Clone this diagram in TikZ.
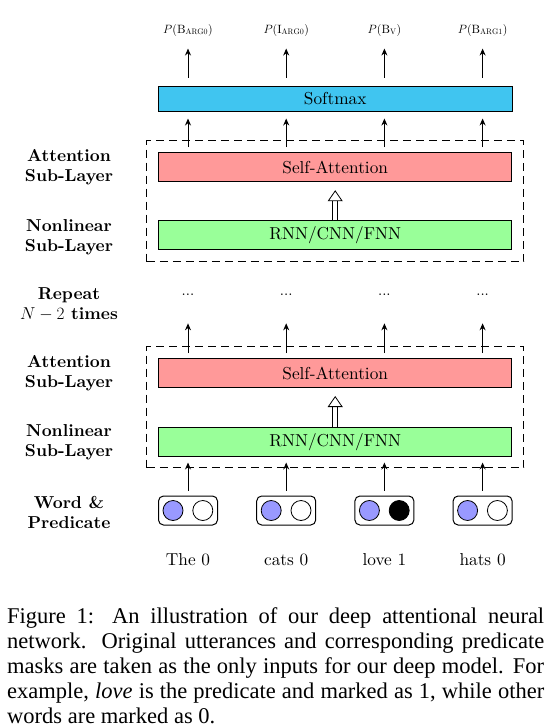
\documentclass[tikz,border=0pt]{standalone}
\usepackage{fontspec}
\setmainfont{lmroman10-regular.otf}[BoldFont=lmroman10-bold.otf,ItalicFont=lmroman10-italic.otf]
\newfontfamily\capfont{Liberation Serif}
\usetikzlibrary{arrows.meta}
\definecolor{softblue}{RGB}{64,197,240}
\definecolor{attred}{RGB}{255,153,153}
\definecolor{nlgreen}{RGB}{153,255,153}
\definecolor{wordblue}{RGB}{153,153,255}

\begin{document}
\begin{tikzpicture}[x=1pt,y=-1pt,
   font=\fontsize{17.28}{20}\selectfont,
   layer/.style={draw,line width=1pt,minimum width=353pt,minimum height=29pt,inner sep=0pt},
   block/.style={draw,dash pattern=on 8pt off 5pt,line width=1pt,minimum width=377pt,minimum height=121pt},
   wordbox/.style={draw,rounded corners=5pt,line width=1pt,minimum width=59pt,minimum height=29pt},
   unit/.style={circle,draw,line width=0.8pt,minimum size=20pt,inner sep=0pt},
   small/.style={font=\fontsize{12}{14}\selectfont},
   side/.style={align=center,font=\fontsize{17.28}{20}\selectfont\bfseries},
   arr/.style={-{Stealth[length=7pt,width=6pt]},line width=1pt},
   hollow/.style={double,double distance=4pt,line width=0.8pt,-{Triangle[open,length=11pt,width=15pt,line width=0.8pt]}}]

   \useasboundingbox (0,0) rectangle (549,728);

   % outputs
   \node (p1) at (188,30) [small] {$P(\mathrm{B}_{\mathrm{ARG0}})$};
   \node (p2) at (286.2,30) [small] {$P(\mathrm{I}_{\mathrm{ARG0}})$};
   \node (p3) at (384.4,30) [small] {$P(\mathrm{B}_{\mathrm{V}})$};
   \node (p4) at (482.6,30) [small] {$P(\mathrm{B}_{\mathrm{ARG1}})$};

   \node (softmax) at (335.2,98.5) [layer,fill=softblue,minimum width=354pt,minimum height=25pt] {Softmax};

   % upper block
   \node (block1) at (335.3,201.2) [block] {};
   \node (att1) at (335.2,167.2) [layer,fill=attred] {Self-Attention};
   \node (nl1) at (335.2,235.4) [layer,fill=nlgreen] {RNN/CNN/FNN};

   \node (dots1) at (188,295) [font=\fontsize{15}{17}\selectfont] {...};
   \node (dots2) at (286.2,295) [font=\fontsize{15}{17}\selectfont] {...};
   \node (dots3) at (384.4,295) [font=\fontsize{15}{17}\selectfont] {...};
   \node (dots4) at (482.6,295) [font=\fontsize{15}{17}\selectfont] {...};

   % lower block
   \node (block2) at (335.3,407.2) [block] {};
   \node (att2) at (335.2,373) [layer,fill=attred] {Self-Attention};
   \node (nl2) at (335.2,442) [layer,fill=nlgreen] {RNN/CNN/FNN};

   % inputs
   \node (w1) at (188,510.5) [wordbox] {};
   \node (w1a) at (173,510.5) [unit,fill=wordblue] {};
   \node (w1b) at (202.8,510.5) [unit] {};
   \node (w2) at (286.2,510.5) [wordbox] {};
   \node (w2a) at (271.2,510.5) [unit,fill=wordblue] {};
   \node (w2b) at (301,510.5) [unit] {};
   \node (w3) at (384.4,510.5) [wordbox] {};
   \node (w3a) at (369.4,510.5) [unit,fill=wordblue] {};
   \node (w3b) at (399.2,510.5) [unit,fill=black] {};
   \node (w4) at (482.6,510.5) [wordbox] {};
   \node (w4a) at (467.6,510.5) [unit,fill=wordblue] {};
   \node (w4b) at (497.4,510.5) [unit] {};

   \node (The) at (188,560) [] {The 0};
   \node (cats) at (286.2,560) [] {cats 0};
   \node (love) at (384.4,560) [] {love 1};
   \node (hats) at (482.6,560) [] {hats 0};

   % side labels
   \node (att-label1) at (69,167) [side] {Attention\\Sub-Layer};
   \node (nl-label1) at (69,237) [side] {Nonlinear\\Sub-Layer};
   \node (repeat) at (69,304) [side] {Repeat\\$N-2$ times};
   \node (att-label2) at (69,373) [side] {Attention\\Sub-Layer};
   \node (nl-label2) at (69,442) [side] {Nonlinear\\Sub-Layer};
   \node (word-label) at (69,512) [side] {Word \&\\Predicate};

   \draw [arr,shorten <=8pt,shorten >=9pt] (softmax.north -| p1) -- (p1);
   \draw [arr,shorten <=8pt,shorten >=9pt] (softmax.north -| p2) -- (p2);
   \draw [arr,shorten <=8pt,shorten >=9pt] (softmax.north -| p3) -- (p3);
   \draw [arr,shorten <=8pt,shorten >=9pt] (softmax.north -| p4) -- (p4);

   \draw [arr,shorten <=5pt,shorten >=7pt] (att1.north -| p1) -- (softmax.south -| p1);
   \draw [arr,shorten <=5pt,shorten >=7pt] (att1.north -| p2) -- (softmax.south -| p2);
   \draw [arr,shorten <=5pt,shorten >=7pt] (att1.north -| p3) -- (softmax.south -| p3);
   \draw [arr,shorten <=5pt,shorten >=7pt] (att1.north -| p4) -- (softmax.south -| p4);

   \draw [hollow,shorten >=8pt] (nl1) -- (att1);
   \draw [hollow,shorten >=8pt] (nl2) -- (att2);

   \draw [arr,shorten <=5pt,shorten >=24pt] (att2.north -| dots1) -- (dots1);
   \draw [arr,shorten <=5pt,shorten >=24pt] (att2.north -| dots2) -- (dots2);
   \draw [arr,shorten <=5pt,shorten >=24pt] (att2.north -| dots3) -- (dots3);
   \draw [arr,shorten <=5pt,shorten >=24pt] (att2.north -| dots4) -- (dots4);

   \draw [arr,shorten <=5pt,shorten >=5.5pt] (w1) -- (nl2.south -| w1);
   \draw [arr,shorten <=5pt,shorten >=5.5pt] (w2) -- (nl2.south -| w2);
   \draw [arr,shorten <=5pt,shorten >=5.5pt] (w3) -- (nl2.south -| w3);
   \draw [arr,shorten <=5pt,shorten >=5.5pt] (w4) -- (nl2.south -| w4);

   \node (caption) at (7,623) [anchor=base west,inner sep=0pt,text width=537pt,align=justify,font=\capfont\fontsize{22.5}{25}\selectfont] {\hyphenpenalty=10000\relax Figure 1: An illustration of our deep attentional neural\linebreak network. Original utterances and corresponding predicate\linebreak masks are taken as the only inputs for our deep model. For\linebreak example, \textit{love} is the predicate and marked as 1, while other\linebreak words are marked as 0.};

\end{tikzpicture}
\end{document}
